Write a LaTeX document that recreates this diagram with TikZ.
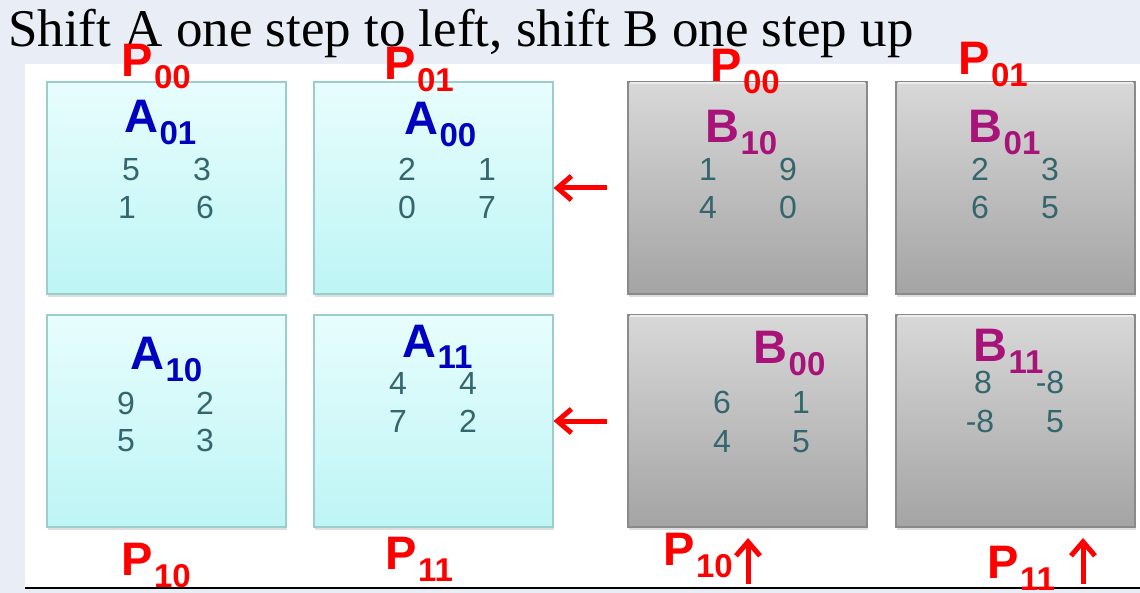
\documentclass[tikz,border=0pt]{standalone}
\usepackage{fontspec}
\setmainfont{Liberation Serif}
\setsansfont{Liberation Sans}
\usetikzlibrary{arrows.meta,shadows}

\definecolor{bgblue}{HTML}{E9EDF6}
\definecolor{ablue}{HTML}{0000C0}
\definecolor{bpurple}{HTML}{A8137A}
\definecolor{numcol}{HTML}{34666E}
\definecolor{cyantop}{HTML}{E8FDFD}
\definecolor{cyanbot}{HTML}{BDF5F5}
\definecolor{cyanedge}{HTML}{9CCCCC}
\definecolor{graytop}{HTML}{D8D8D8}
\definecolor{graybot}{HTML}{A4A4A4}
\definecolor{grayedge}{HTML}{8A8A8A}

% block name with index
\newcommand{\blk}[2]{#1\kern1.5pt\raisebox{-12pt}{\fontsize{33}{33}\selectfont #2}}

\tikzset{
  boxA/.style={draw=cyanedge, line width=1.2pt, top color=cyantop, bottom color=cyanbot,
    minimum width=239pt, minimum height=212pt, inner sep=0pt,
    drop shadow={shadow xshift=1pt, shadow yshift=-3pt, fill=black!25}},
  boxB/.style={draw=grayedge, line width=2pt, top color=graytop, bottom color=graybot,
    minimum width=239pt, minimum height=212pt, inner sep=0pt,
    drop shadow={shadow xshift=1pt, shadow yshift=-3pt, fill=black!25}},
  bevel/.style={draw=white!85!gray, line width=2pt},
  num/.style={font=\sffamily\fontsize{32}{32}\selectfont, text=numcol, anchor=base, inner sep=0pt},
  lblA/.style={font=\sffamily\bfseries\fontsize{47}{47}\selectfont, text=ablue, anchor=base west, inner sep=0pt},
  lblB/.style={lblA, text=bpurple},
  proc/.style={lblA, text=red},
  shiftarrow/.style={draw=red, line width=5pt, -{Straight Barb[length=14pt, width=24pt]}}
}

\begin{document}
\begin{tikzpicture}[x=1pt,y=-1pt]
\useasboundingbox (0,0) rectangle (1140,593);
\fill[bgblue] (0,0) rectangle (1140,593);
\fill[white] (25,64) rectangle (1140,588);
\draw[line width=1.5pt] (25,588) -- (1140,588);

\node[anchor=base west, inner sep=0pt, font=\fontsize{53}{53}\selectfont] (title) at (8,47)
  {Shift A one step to left, shift B one step up};

% blocks of A
\node[boxA] (a01) at (166.5,188) {};
\node[boxA] (a00) at (433.5,188) {};
\node[boxA] (a10) at (166.5,421) {};
\node[boxA] (a11) at (433.5,421) {};
% blocks of B
\node[boxB] (b10) at (747,188) {};
\node[boxB] (b01) at (1015,188) {};
\node[boxB] (b00) at (747,421) {};
\node[boxB] (b11) at (1015,421) {};
\foreach \b in {b10,b01,b00,b11}
  \draw[bevel, shorten <=3pt, shorten >=3pt] ([yshift=-2.5pt]\b.north west) -- ([yshift=-2.5pt]\b.north east);

% names
\node[lblA] (na01) at (124,133) {\blk{A}{01}};
\node[lblA] (na00) at (404,135) {\blk{A}{00}};
\node[lblA] (na10) at (130,370) {\blk{A}{10}};
\node[lblA] (na11) at (402,357) {\blk{A}{11}};
\node[lblB] (nb10) at (705,143) {\blk{B}{10}};
\node[lblB] (nb01) at (968,143) {\blk{B}{01}};
\node[lblB] (nb00) at (753,363) {\blk{B}{00}};
\node[lblB] (nb11) at (973,362) {\blk{B}{11}};

% values
\node[num] (va01a) at (131,181) {5};
\node[num] (va01b) at (202,181) {3};
\node[num] (va01c) at (127,219) {1};
\node[num] (va01d) at (205,219) {6};
\node[num] (va00a) at (407,181) {2};
\node[num] (va00b) at (487,181) {1};
\node[num] (va00c) at (407,219) {0};
\node[num] (va00d) at (487,219) {7};
\node[num] (va10a) at (126,414) {9};
\node[num] (va10b) at (205,414) {2};
\node[num] (va10c) at (126,451) {5};
\node[num] (va10d) at (205,451) {3};
\node[num] (va11a) at (398,394) {4};
\node[num] (va11b) at (468,394) {4};
\node[num] (va11c) at (398,432) {7};
\node[num] (va11d) at (468,432) {2};
\node[num] (vb10a) at (708,181) {1};
\node[num] (vb10b) at (788,181) {9};
\node[num] (vb10c) at (708,219) {4};
\node[num] (vb10d) at (788,219) {0};
\node[num] (vb01a) at (980,181) {2};
\node[num] (vb01b) at (1050,181) {3};
\node[num] (vb01c) at (980,219) {6};
\node[num] (vb01d) at (1050,219) {5};
\node[num] (vb00a) at (722,413) {6};
\node[num] (vb00b) at (801,413) {1};
\node[num] (vb00c) at (722,452) {4};
\node[num] (vb00d) at (801,452) {5};
\node[num] (vb11a) at (983,393) {8};
\node[num] (vb11b) at (1050,393) {-8};
\node[num] (vb11c) at (980,432) {-8};
\node[num] (vb11d) at (1055,432) {5};

% processors
\node[proc] (p00a) at (121,77) {\blk{P}{00}};
\node[proc] (p01a) at (384,80) {\blk{P}{01}};
\node[proc] (p00b) at (710,82) {\blk{P}{00}};
\node[proc] (p01b) at (958,75) {\blk{P}{01}};
\node[proc] (p10a) at (121,575) {\blk{P}{10}};
\node[proc] (p11a) at (385,569) {\blk{P}{11}};
\node[proc] (p10b) at (663,565) {\blk{P}{10}};
\node[proc] (p11b) at (987,578) {\blk{P}{11}};

% shifts
\draw[shiftarrow, shorten <=20pt] (b10.west) -- (a00.east);
\draw[shiftarrow, shorten <=20pt] (b00.west) -- (a11.east);
\coordinate (up0) at (748,584);
\coordinate (up1) at (1083,584);
\draw[shiftarrow, shorten >=10pt] (up0) -- (up0 |- b00.south);
\draw[shiftarrow, shorten >=10pt] (up1) -- (up1 |- b11.south);
\end{tikzpicture}
\end{document}
